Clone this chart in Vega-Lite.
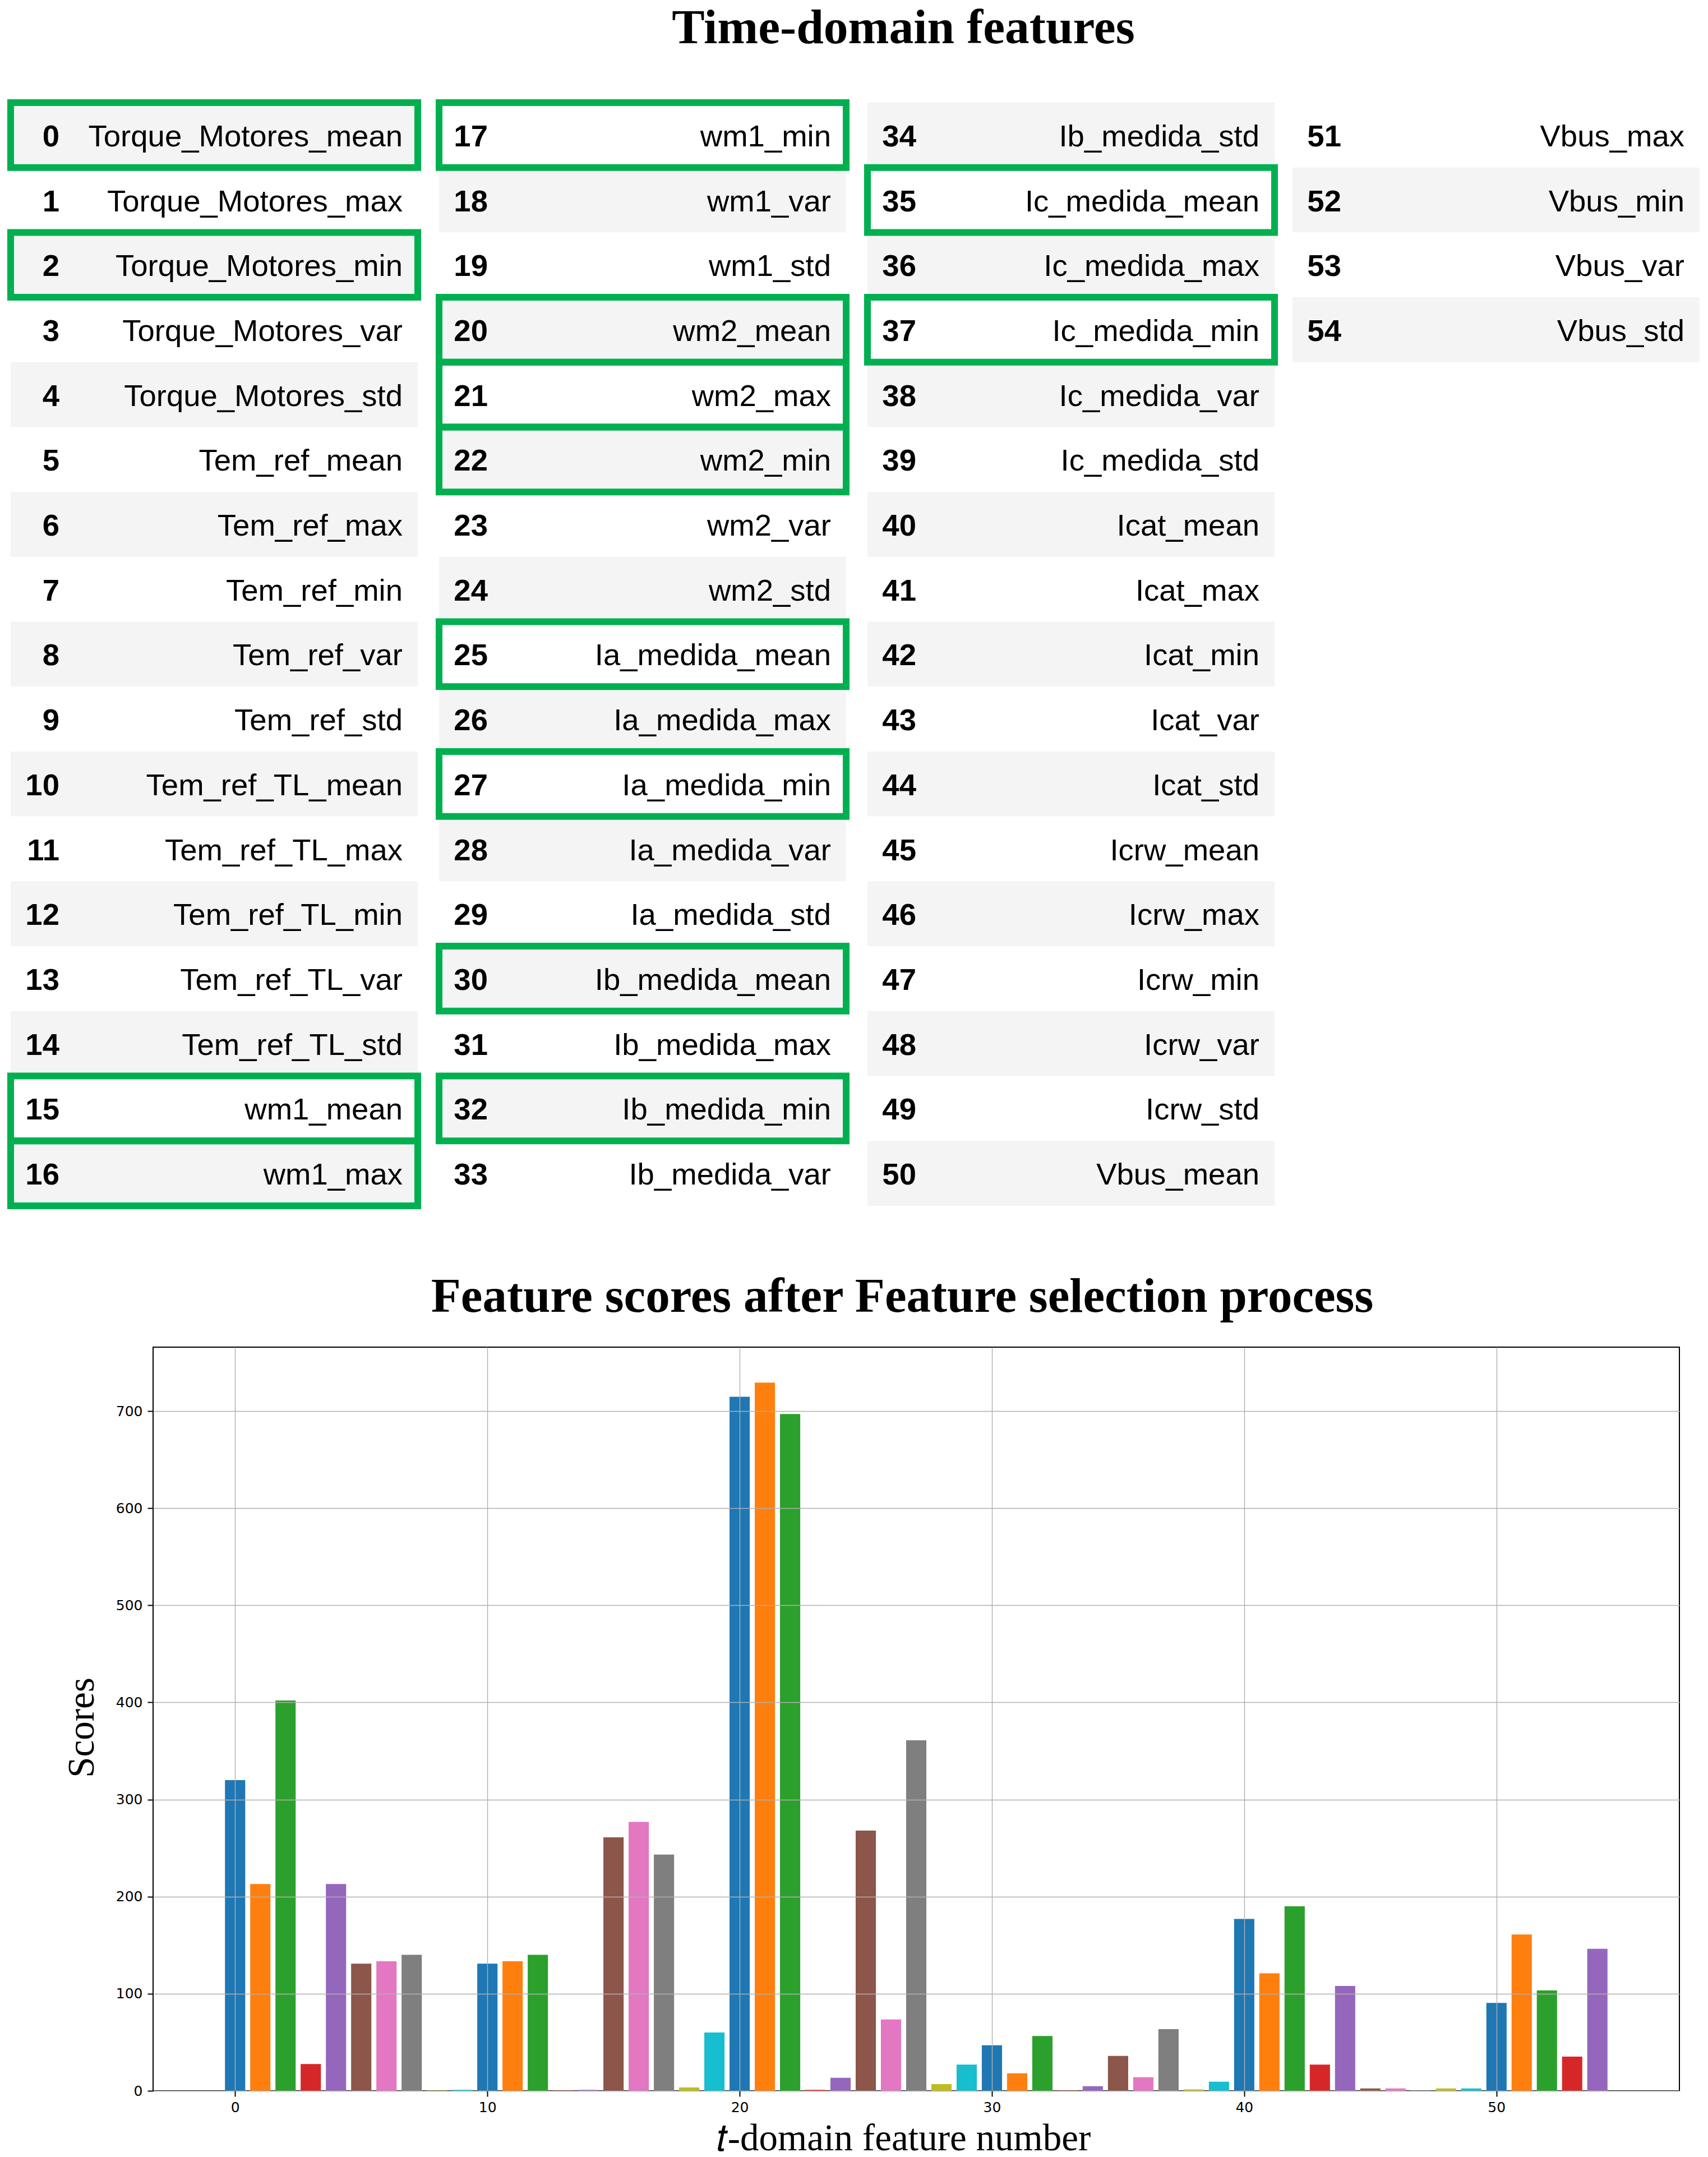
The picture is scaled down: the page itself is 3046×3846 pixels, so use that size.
{
  "$schema": "https://vega.github.io/schema/vega-lite/v6.json",
  "background": "white",
  "padding": {"left": 13, "top": 6, "right": 5, "bottom": 5},
  "title": {"text": "Time-domain features", "font": "Liberation Serif", "fontSize": 87.5, "fontWeight": "bold", "color": "black", "anchor": "middle", "dx": 89, "offset": 82},
  "data": {"values": [
    {"id": 0, "name": "Torque_Motores_mean", "score": 320, "selected": true},
    {"id": 1, "name": "Torque_Motores_max", "score": 213, "selected": false},
    {"id": 2, "name": "Torque_Motores_min", "score": 402, "selected": true},
    {"id": 3, "name": "Torque_Motores_var", "score": 27.6, "selected": false},
    {"id": 4, "name": "Torque_Motores_std", "score": 213, "selected": false},
    {"id": 5, "name": "Tem_ref_mean", "score": 131, "selected": false},
    {"id": 6, "name": "Tem_ref_max", "score": 133.4, "selected": false},
    {"id": 7, "name": "Tem_ref_min", "score": 140, "selected": false},
    {"id": 8, "name": "Tem_ref_var", "score": 0.3, "selected": false},
    {"id": 9, "name": "Tem_ref_std", "score": 1, "selected": false},
    {"id": 10, "name": "Tem_ref_TL_mean", "score": 131, "selected": false},
    {"id": 11, "name": "Tem_ref_TL_max", "score": 133.4, "selected": false},
    {"id": 12, "name": "Tem_ref_TL_min", "score": 140, "selected": false},
    {"id": 13, "name": "Tem_ref_TL_var", "score": 0.3, "selected": false},
    {"id": 14, "name": "Tem_ref_TL_std", "score": 1, "selected": false},
    {"id": 15, "name": "wm1_mean", "score": 261, "selected": true},
    {"id": 16, "name": "wm1_max", "score": 277, "selected": true},
    {"id": 17, "name": "wm1_min", "score": 243.3, "selected": true},
    {"id": 18, "name": "wm1_var", "score": 3.5, "selected": false},
    {"id": 19, "name": "wm1_std", "score": 60, "selected": false},
    {"id": 20, "name": "wm2_mean", "score": 714.7, "selected": true},
    {"id": 21, "name": "wm2_max", "score": 729.4, "selected": true},
    {"id": 22, "name": "wm2_min", "score": 697, "selected": true},
    {"id": 23, "name": "wm2_var", "score": 1, "selected": false},
    {"id": 24, "name": "wm2_std", "score": 13.5, "selected": false},
    {"id": 25, "name": "Ia_medida_mean", "score": 268, "selected": true},
    {"id": 26, "name": "Ia_medida_max", "score": 73.5, "selected": false},
    {"id": 27, "name": "Ia_medida_min", "score": 361, "selected": true},
    {"id": 28, "name": "Ia_medida_var", "score": 7, "selected": false},
    {"id": 29, "name": "Ia_medida_std", "score": 27, "selected": false},
    {"id": 30, "name": "Ib_medida_mean", "score": 47, "selected": true},
    {"id": 31, "name": "Ib_medida_max", "score": 18, "selected": false},
    {"id": 32, "name": "Ib_medida_min", "score": 56.5, "selected": true},
    {"id": 33, "name": "Ib_medida_var", "score": 0.3, "selected": false},
    {"id": 34, "name": "Ib_medida_std", "score": 4.7, "selected": false},
    {"id": 35, "name": "Ic_medida_mean", "score": 36, "selected": true},
    {"id": 36, "name": "Ic_medida_max", "score": 14, "selected": false},
    {"id": 37, "name": "Ic_medida_min", "score": 63.5, "selected": true},
    {"id": 38, "name": "Ic_medida_var", "score": 1.5, "selected": false},
    {"id": 39, "name": "Ic_medida_std", "score": 9.4, "selected": false},
    {"id": 40, "name": "Icat_mean", "score": 177, "selected": false},
    {"id": 41, "name": "Icat_max", "score": 121, "selected": false},
    {"id": 42, "name": "Icat_min", "score": 190, "selected": false},
    {"id": 43, "name": "Icat_var", "score": 27, "selected": false},
    {"id": 44, "name": "Icat_std", "score": 108, "selected": false},
    {"id": 45, "name": "Icrw_mean", "score": 2.5, "selected": false},
    {"id": 46, "name": "Icrw_max", "score": 2.5, "selected": false},
    {"id": 47, "name": "Icrw_min", "score": 0.3, "selected": false},
    {"id": 48, "name": "Icrw_var", "score": 2.5, "selected": false},
    {"id": 49, "name": "Icrw_std", "score": 2.5, "selected": false},
    {"id": 50, "name": "Vbus_mean", "score": 90.5, "selected": false},
    {"id": 51, "name": "Vbus_max", "score": 161, "selected": false},
    {"id": 52, "name": "Vbus_min", "score": 103.4, "selected": false},
    {"id": 53, "name": "Vbus_var", "score": 35.3, "selected": false},
    {"id": 54, "name": "Vbus_std", "score": 146.3, "selected": false}
  ]},
  "spacing": 112,
  "vconcat": [
    {
      "spacing": 26,
      "hconcat": [
        {
          "width": 726, "height": {"step": 115.7},
          "transform": [{"filter": {"field": "id", "range": [0, 16]}}],
          "encoding": {"y": {"field": "id", "type": "ordinal", "axis": null, "scale": {"paddingInner": 0, "paddingOuter": 0}}},
          "layer": [
            {"mark": {"type": "rect"}, "encoding": {"fill": {"field": "id", "type": "ordinal", "legend": null, "scale": {"domain": [0,1,2,3,4,5,6,7,8,9,10,11,12,13,14,15,16,17,18,19,20,21,22,23,24,25,26,27,28,29,30,31,32,33,34,35,36,37,38,39,40,41,42,43,44,45,46,47,48,49,50,51,52,53,54], "range": ["#f4f4f4", "#ffffff"]}}}},
            {"transform": [{"filter": {"field": "selected", "equal": true}}], "mark": {"type": "rect", "filled": false, "stroke": "#00b050", "strokeWidth": 12}, "encoding": {}},
            {"mark": {"type": "text", "align": "right", "baseline": "middle", "dy": 4, "font": "Liberation Sans", "fontSize": 54.5, "fontWeight": "bold", "color": "black"}, "encoding": {"x": {"datum": "num", "type": "nominal", "axis": null, "scale": {"type": "point", "domain": ["num", "name"], "padding": 0.0931, "align": 0.7632}}, "text": {"field": "id", "type": "nominal"}}},
            {"mark": {"type": "text", "align": "right", "baseline": "middle", "dy": 4, "font": "Liberation Sans", "fontSize": 54.5, "color": "black"}, "encoding": {"x": {"datum": "name", "type": "nominal", "axis": null}, "text": {"field": "name", "type": "nominal"}}}
          ]
        },
        {
          "width": 726, "height": {"step": 115.7},
          "transform": [{"filter": {"field": "id", "range": [17, 33]}}],
          "encoding": {"y": {"field": "id", "type": "ordinal", "axis": null, "scale": {"paddingInner": 0, "paddingOuter": 0}}},
          "layer": [
            {"mark": {"type": "rect"}, "encoding": {"fill": {"field": "id", "type": "ordinal", "legend": null, "scale": {"domain": [0,1,2,3,4,5,6,7,8,9,10,11,12,13,14,15,16,17,18,19,20,21,22,23,24,25,26,27,28,29,30,31,32,33,34,35,36,37,38,39,40,41,42,43,44,45,46,47,48,49,50,51,52,53,54], "range": ["#f4f4f4", "#ffffff"]}}}},
            {"transform": [{"filter": {"field": "selected", "equal": true}}], "mark": {"type": "rect", "filled": false, "stroke": "#00b050", "strokeWidth": 12}, "encoding": {}},
            {"mark": {"type": "text", "align": "right", "baseline": "middle", "dy": 4, "font": "Liberation Sans", "fontSize": 54.5, "fontWeight": "bold", "color": "black"}, "encoding": {"x": {"datum": "num", "type": "nominal", "axis": null, "scale": {"type": "point", "domain": ["num", "name"], "padding": 0.0931, "align": 0.7632}}, "text": {"field": "id", "type": "nominal"}}},
            {"mark": {"type": "text", "align": "right", "baseline": "middle", "dy": 4, "font": "Liberation Sans", "fontSize": 54.5, "color": "black"}, "encoding": {"x": {"datum": "name", "type": "nominal", "axis": null}, "text": {"field": "name", "type": "nominal"}}}
          ]
        },
        {
          "width": 726, "height": {"step": 115.7},
          "transform": [{"filter": {"field": "id", "range": [34, 50]}}],
          "encoding": {"y": {"field": "id", "type": "ordinal", "axis": null, "scale": {"paddingInner": 0, "paddingOuter": 0}}},
          "layer": [
            {"mark": {"type": "rect"}, "encoding": {"fill": {"field": "id", "type": "ordinal", "legend": null, "scale": {"domain": [0,1,2,3,4,5,6,7,8,9,10,11,12,13,14,15,16,17,18,19,20,21,22,23,24,25,26,27,28,29,30,31,32,33,34,35,36,37,38,39,40,41,42,43,44,45,46,47,48,49,50,51,52,53,54], "range": ["#f4f4f4", "#ffffff"]}}}},
            {"transform": [{"filter": {"field": "selected", "equal": true}}], "mark": {"type": "rect", "filled": false, "stroke": "#00b050", "strokeWidth": 12}, "encoding": {}},
            {"mark": {"type": "text", "align": "right", "baseline": "middle", "dy": 4, "font": "Liberation Sans", "fontSize": 54.5, "fontWeight": "bold", "color": "black"}, "encoding": {"x": {"datum": "num", "type": "nominal", "axis": null, "scale": {"type": "point", "domain": ["num", "name"], "padding": 0.0931, "align": 0.7632}}, "text": {"field": "id", "type": "nominal"}}},
            {"mark": {"type": "text", "align": "right", "baseline": "middle", "dy": 4, "font": "Liberation Sans", "fontSize": 54.5, "color": "black"}, "encoding": {"x": {"datum": "name", "type": "nominal", "axis": null}, "text": {"field": "name", "type": "nominal"}}}
          ]
        },
        {
          "width": 726, "height": {"step": 115.7},
          "transform": [{"filter": {"field": "id", "range": [51, 54]}}],
          "encoding": {"y": {"field": "id", "type": "ordinal", "axis": null, "scale": {"paddingInner": 0, "paddingOuter": 0}}},
          "layer": [
            {"mark": {"type": "rect"}, "encoding": {"fill": {"field": "id", "type": "ordinal", "legend": null, "scale": {"domain": [0,1,2,3,4,5,6,7,8,9,10,11,12,13,14,15,16,17,18,19,20,21,22,23,24,25,26,27,28,29,30,31,32,33,34,35,36,37,38,39,40,41,42,43,44,45,46,47,48,49,50,51,52,53,54], "range": ["#f4f4f4", "#ffffff"]}}}},
            {"mark": {"type": "text", "align": "right", "baseline": "middle", "dy": 4, "font": "Liberation Sans", "fontSize": 54.5, "fontWeight": "bold", "color": "black"}, "encoding": {"x": {"datum": "num", "type": "nominal", "axis": null, "scale": {"type": "point", "domain": ["num", "name"], "padding": 0.0931, "align": 0.7632}}, "text": {"field": "id", "type": "nominal"}}},
            {"mark": {"type": "text", "align": "right", "baseline": "middle", "dy": 4, "font": "Liberation Sans", "fontSize": 54.5, "color": "black"}, "encoding": {"x": {"datum": "name", "type": "nominal", "axis": null}, "text": {"field": "name", "type": "nominal"}}}
          ]
        }
      ]
    },
    {
      "spacing": 0,
      "hconcat": [
        {"width": 92, "height": 1, "data": {"values": []}, "mark": {"type": "point", "opacity": 0}, "encoding": {}},
        {
          "width": 2722,
          "height": 1326,
          "view": {"stroke": "black", "strokeWidth": 2},
          "title": {"text": "Feature scores after Feature selection process", "font": "Liberation Serif", "fontSize": 87, "fontWeight": "bold", "color": "black", "anchor": "middle", "frame": "group", "baseline": "alphabetic", "offset": -24, "dx": -25},
          "mark": {"type": "bar", "width": 36.1},
          "encoding": {
            "x": {"field": "id", "type": "quantitative", "scale": {"domain": [-3.14, 57.14], "nice": false, "zero": false},
              "axis": {"values": [0, 10, 20, 30, 40, 50], "title": "𝑡-domain feature number", "titleX": 1338, "grid": true, "gridColor": "#b0b0b0", "gridWidth": 1.4, "domain": false, "ticks": true, "tickColor": "black", "tickSize": 10, "tickWidth": 2, "labelFont": "DejaVu Sans", "labelFontSize": 25, "labelColor": "black", "labelPadding": 7, "labelFlush": false, "titleFont": "Liberation Serif", "titleFontSize": 67, "titleFontWeight": "normal", "titleColor": "black", "titlePadding": 10, "zindex": 1}},
            "y": {"field": "score", "type": "quantitative", "scale": {"domain": [0, 765.87], "nice": false, "zero": true},
              "axis": {"values": [0, 100, 200, 300, 400, 500, 600, 700], "title": "Scores", "titleY": 678, "grid": true, "gridColor": "#b0b0b0", "gridWidth": 1.4, "domain": false, "ticks": true, "tickColor": "black", "tickSize": 10, "tickWidth": 2, "labelFont": "DejaVu Sans", "labelFontSize": 25, "labelColor": "black", "labelPadding": 9, "labelFlush": false, "titleFont": "Liberation Serif", "titleFontSize": 67, "titleFontWeight": "normal", "titleColor": "black", "titlePadding": 26, "zindex": 1}},
            "color": {"field": "id", "type": "ordinal", "legend": null, "scale": {"domain": [0,1,2,3,4,5,6,7,8,9,10,11,12,13,14,15,16,17,18,19,20,21,22,23,24,25,26,27,28,29,30,31,32,33,34,35,36,37,38,39,40,41,42,43,44,45,46,47,48,49,50,51,52,53,54], "range": ["#1f77b4", "#ff7f0e", "#2ca02c", "#d62728", "#9467bd", "#8c564b", "#e377c2", "#7f7f7f", "#bcbd22", "#17becf"]}}
          }
        }
      ]
    }
  ],
  "config": {"view": {"stroke": null}}
}
